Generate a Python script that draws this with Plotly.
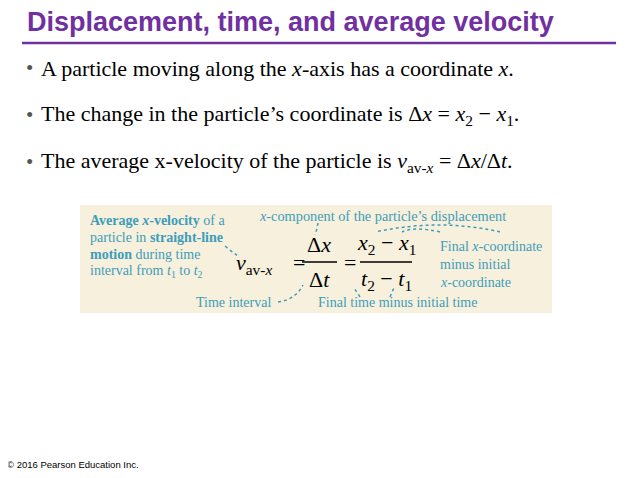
import plotly.graph_objects as go

title = "Displacement, time, and average velocity"
bullets = [
    "A particle moving along the <i>x</i>-axis has a coordinate <i>x</i>.",
    "The change in the particle\u2019s coordinate is \u0394<i>x</i> = <i>x</i><sub>2</sub> \u2212 <i>x</i><sub>1</sub>.",
    "The average x-velocity of the particle is <i>v</i><sub>av-<i>x</i></sub> = \u0394<i>x</i>/\u0394<i>t</i>.",
]
bullet_y = [68, 115, 162]
left_lines = [
    "<b>Average <i>x</i>-velocity</b> of a",
    "particle in <b>straight-line</b>",
    "<b>motion</b> during time",
    "interval from <i>t</i><sub>1</sub> to <i>t</i><sub>2</sub>",
]
right_lines = ["Final <i>x</i>-coordinate", "minus initial", "<i>x</i>-coordinate"]
footer = "\u00a9 2016 Pearson Education Inc."

PURPLE = "#7030A0"
TEAL = "#3E9DBA"
serif = "Liberation Serif"
sans = "Liberation Sans"

fig = go.Figure()
ann = []
shapes = []

def txt(x, y, t, size, color="black", font=serif, xanchor="left"):
    ann.append(dict(x=x, y=y, text=t, showarrow=False, xanchor=xanchor, yanchor="middle",
                    font=dict(family=font, size=size, color=color)))

txt(25, 22, "<b>" + title + "</b>", 27, PURPLE, sans)
shapes.append(dict(type="line", x0=22, x1=616, y0=43, y1=43, line=dict(color=PURPLE, width=2.5)))
for b, y in zip(bullets, bullet_y):
    txt(24, y, "\u2022", 21, "#555555")
    txt(39, y, b, 22)

shapes.append(dict(type="rect", x0=80, x1=552, y0=205, y1=313, fillcolor="#F6F0DC", line=dict(width=0), layer="below"))
for i, t in enumerate(left_lines):
    txt(88, 220 + i * 17, t, 14, TEAL)
for i, t in enumerate(right_lines):
    txt(438, 246 + i * 18, t, 14, TEAL)
txt(257, 216, "<i>x</i>-component of the particle\u2019s displacement", 14.3, TEAL)
txt(273, 302, "Time interval", 14, TEAL, xanchor="right")
txt(316, 302, "Final time minus initial time", 14, TEAL)

txt(234, 264, "<i>v</i><sub>av-<i>x</i></sub>", 22)
txt(291, 262, "=", 22)
txt(319, 244, "\u0394<i>x</i>", 22, xanchor="center")
txt(319, 279, "\u0394<i>t</i>", 22, xanchor="center")
shapes.append(dict(type="line", x0=302, x1=337, y0=262, y1=262, line=dict(color="black", width=1.5)))
txt(342, 262, "=", 22)
txt(386, 244, "<i>x</i><sub>2</sub> \u2212 <i>x</i><sub>1</sub>", 22, xanchor="center")
txt(386, 280, "<i>t</i><sub>2</sub> \u2212 <i>t</i><sub>1</sub>", 22, xanchor="center")
shapes.append(dict(type="line", x0=360, x1=412, y0=262, y1=262, line=dict(color="black", width=1.5)))

dots = [
    "M 225 246 Q 232 252 238 256",
    "M 318 223 Q 317 229 315 235",
    "M 500 232 Q 440 218 375 232",
    "M 440 232 Q 415 226 402 232",
    "M 278 302 Q 295 300 303 285",
    "M 360 297 Q 357 292 354 288",
    "M 390 297 Q 392 292 394 288",
]
for d in dots:
    shapes.append(dict(type="path", path=d, line=dict(color=TEAL, width=1.5, dash="dot")))

ann.append(dict(x=0, y=0.0, xref="paper", yref="paper", text=footer, showarrow=False,
                xanchor="left", yanchor="bottom", xshift=-3, yshift=6,
                font=dict(family=sans, size=9.5, color="black")))

fig.update_layout(width=630, height=470, margin=dict(l=0, r=0, t=0, b=0),
                  paper_bgcolor="white", plot_bgcolor="white",
                  xaxis=dict(range=[8, 638], visible=False, fixedrange=True),
                  yaxis=dict(range=[478, 8], visible=False, fixedrange=True),
                  annotations=ann, shapes=shapes, showlegend=False)
fig.write_html("out.html")
